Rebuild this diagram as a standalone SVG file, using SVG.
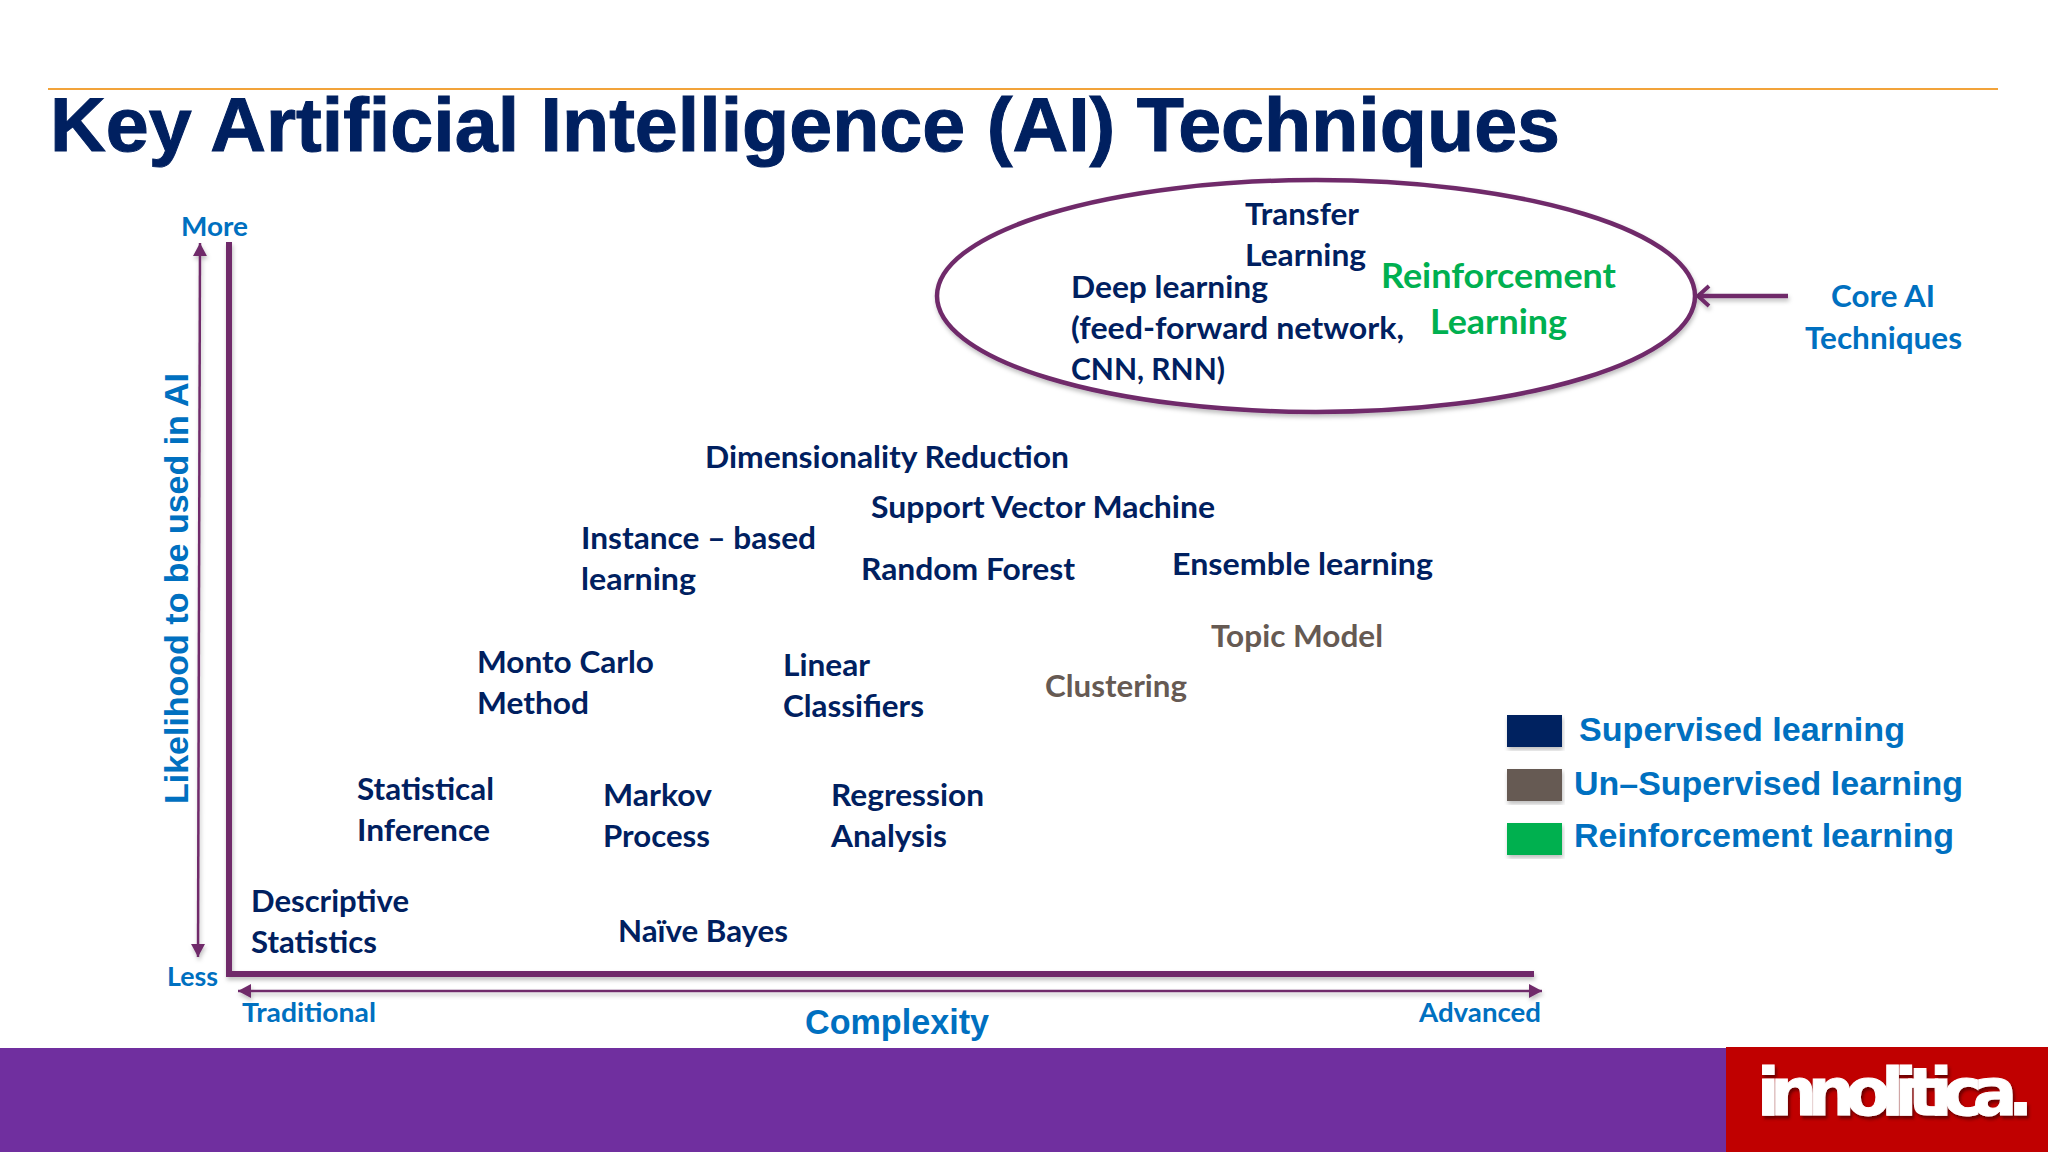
<svg xmlns="http://www.w3.org/2000/svg" width="2048" height="1152" viewBox="0 0 2048 1152">
<style>
text{font-family:"Lato","Liberation Sans",sans-serif;font-weight:700}
.n{font-size:31px;fill:#002060}
.u{font-size:31px;fill:#665a53}
.r{font-size:35px;fill:#00b050}
.b{font-size:27px;fill:#0070c0}
.c{font-size:31px;fill:#0070c0}
.a{font-family:"Liberation Sans",Arial,sans-serif;fill:#0070c0}
.ax{stroke:#6f2c6b;fill:none}
</style>
<defs>
<filter id="sh" x="-5%" y="-5%" width="110%" height="115%"><feDropShadow dx="1" dy="3" stdDeviation="2" flood-color="#000" flood-opacity=".25"/></filter>
<filter id="ls" x="-5%" y="-20%" width="110%" height="140%"><feDropShadow dx="2" dy="3" stdDeviation="1.5" flood-color="#300" flood-opacity=".6"/></filter>
<marker id="tri" markerUnits="userSpaceOnUse" markerWidth="14" markerHeight="14" refX="13" refY="7" orient="auto-start-reverse"><path d="M0 0L13 7L0 14Z" fill="#6f2c6b"/></marker>
<marker id="open" markerUnits="userSpaceOnUse" markerWidth="16" markerHeight="24" refX="13" refY="12" orient="auto"><path d="M2 2L13 12L2 22" fill="none" stroke="#6f2c6b" stroke-width="4"/></marker>
</defs>
<rect width="2048" height="1152" fill="#fff"/>
<g id="header">
<line x1="48" y1="89" x2="1998" y2="89" stroke="#f2a33a" stroke-width="2"/>
<text class="a" x="50" y="151" font-size="76" textLength="1510" lengthAdjust="spacingAndGlyphs" stroke="#002060" stroke-width="1" style="fill:#002060">Key Artificial Intelligence (AI) Techniques</text>
</g>
<g id="footer">
<rect y="1048" width="2048" height="104" fill="#702f9f"/>
<rect x="1726" y="1047" width="322" height="105" fill="#c00000"/>
<text x="1757" y="1115" font-size="66" textLength="276" lengthAdjust="spacing" fill="#fff" stroke="#fff" stroke-width="1" filter="url(#ls)" style="font-family:'DejaVu Sans',sans-serif">innolitica.</text>
</g>
<g id="connectors" filter="url(#sh)">
<path class="ax" stroke-width="6" d="M229 242V974H1534"/>
<line class="ax" stroke-width="2.5" x1="200" y1="243" x2="198" y2="957" marker-start="url(#tri)" marker-end="url(#tri)"/>
<line class="ax" stroke-width="2.5" x1="238" y1="991" x2="1542" y2="991" marker-start="url(#tri)" marker-end="url(#tri)"/>
<line class="ax" stroke-width="4.5" x1="1788" y1="296" x2="1698" y2="296" marker-end="url(#open)"/>
</g>
<g id="core-ellipse"><ellipse cx="1316" cy="296" rx="379" ry="116" fill="#fff" stroke="#6f2c6b" stroke-width="4.5" filter="url(#sh)"/></g>
<g id="transfer-learning"><text class="n" x="1245" y="225" textLength="114" lengthAdjust="spacingAndGlyphs">Transfer</text><text class="n" x="1245" y="266" textLength="121" lengthAdjust="spacingAndGlyphs">Learning</text></g>
<g id="deep-learning"><text class="n" x="1071" y="298" textLength="197" lengthAdjust="spacingAndGlyphs">Deep learning</text><text class="n" x="1071" y="339" textLength="333" lengthAdjust="spacingAndGlyphs">(feed-forward network,</text><text class="n" x="1071" y="380" textLength="154" lengthAdjust="spacingAndGlyphs">CNN, RNN)</text></g>
<g id="reinforcement-learning"><text class="r" x="1381" y="288" textLength="235" lengthAdjust="spacingAndGlyphs">Reinforcement</text><text class="r" x="1430" y="334" textLength="137" lengthAdjust="spacingAndGlyphs">Learning</text></g>
<g id="core-ai-label"><text class="c" x="1831" y="307" textLength="104" lengthAdjust="spacingAndGlyphs">Core AI</text><text class="c" x="1805" y="349" textLength="157" lengthAdjust="spacingAndGlyphs">Techniques</text></g>
<g id="dimensionality-reduction"><text class="n" x="705" y="468" textLength="364" lengthAdjust="spacingAndGlyphs">Dimensionality Reduction</text></g>
<g id="support-vector-machine"><text class="n" x="871" y="518" textLength="344" lengthAdjust="spacingAndGlyphs">Support Vector Machine</text></g>
<g id="instance-based"><text class="n" x="581" y="549" textLength="235" lengthAdjust="spacingAndGlyphs">Instance – based</text><text class="n" x="581" y="590" textLength="115" lengthAdjust="spacingAndGlyphs">learning</text></g>
<g id="random-forest"><text class="n" x="861" y="580" textLength="214" lengthAdjust="spacingAndGlyphs">Random Forest</text></g>
<g id="ensemble-learning"><text class="n" x="1172" y="575" textLength="261" lengthAdjust="spacingAndGlyphs">Ensemble learning</text></g>
<g id="topic-model"><text class="u" x="1211" y="647" textLength="172" lengthAdjust="spacingAndGlyphs">Topic Model</text></g>
<g id="clustering"><text class="u" x="1045" y="697" textLength="142" lengthAdjust="spacingAndGlyphs">Clustering</text></g>
<g id="monto-carlo"><text class="n" x="477" y="673" textLength="177" lengthAdjust="spacingAndGlyphs">Monto Carlo</text><text class="n" x="477" y="714" textLength="112" lengthAdjust="spacingAndGlyphs">Method</text></g>
<g id="linear-classifiers"><text class="n" x="783" y="676" textLength="87" lengthAdjust="spacingAndGlyphs">Linear</text><text class="n" x="783" y="717" textLength="141" lengthAdjust="spacingAndGlyphs">Classifiers</text></g>
<g id="statistical-inference"><text class="n" x="357" y="800" textLength="137" lengthAdjust="spacingAndGlyphs">Statistical</text><text class="n" x="357" y="841" textLength="133" lengthAdjust="spacingAndGlyphs">Inference</text></g>
<g id="markov-process"><text class="n" x="603" y="806" textLength="109" lengthAdjust="spacingAndGlyphs">Markov</text><text class="n" x="603" y="847" textLength="107" lengthAdjust="spacingAndGlyphs">Process</text></g>
<g id="regression-analysis"><text class="n" x="831" y="806" textLength="153" lengthAdjust="spacingAndGlyphs">Regression</text><text class="n" x="831" y="847" textLength="116" lengthAdjust="spacingAndGlyphs">Analysis</text></g>
<g id="descriptive-statistics"><text class="n" x="251" y="912" textLength="158" lengthAdjust="spacingAndGlyphs">Descriptive</text><text class="n" x="251" y="953" textLength="126" lengthAdjust="spacingAndGlyphs">Statistics</text></g>
<g id="naive-bayes"><text class="n" x="618" y="942" textLength="170" lengthAdjust="spacingAndGlyphs">Naïve Bayes</text></g>
<g id="axis-labels">
<text class="b" x="181" y="236" textLength="67" lengthAdjust="spacingAndGlyphs">More</text>
<text class="b" x="167" y="986" textLength="51" lengthAdjust="spacingAndGlyphs">Less</text>
<text class="b" x="242" y="1022" textLength="134" lengthAdjust="spacingAndGlyphs">Traditional</text>
<text class="b" x="1419" y="1022" textLength="122" lengthAdjust="spacingAndGlyphs">Advanced</text>
<text class="a" x="805" y="1034" font-size="35" textLength="184" lengthAdjust="spacingAndGlyphs">Complexity</text>
<text class="a" transform="translate(188 804) rotate(-90)" font-size="33" textLength="431" lengthAdjust="spacingAndGlyphs">Likelihood to be used in AI</text>
</g>
<g id="legend-supervised"><rect x="1507" y="715" width="55" height="32" fill="#002060" filter="url(#sh)"/><text class="a" x="1579" y="741" font-size="34" textLength="326" lengthAdjust="spacingAndGlyphs">Supervised learning</text></g>
<g id="legend-unsupervised"><rect x="1507" y="769" width="55" height="32" fill="#665a53" filter="url(#sh)"/><text class="a" x="1574" y="795" font-size="34" textLength="389" lengthAdjust="spacingAndGlyphs">Un–Supervised learning</text></g>
<g id="legend-reinforcement"><rect x="1507" y="823" width="55" height="32" fill="#00b050" filter="url(#sh)"/><text class="a" x="1574" y="847" font-size="34" textLength="380" lengthAdjust="spacingAndGlyphs">Reinforcement learning</text></g>
</svg>
